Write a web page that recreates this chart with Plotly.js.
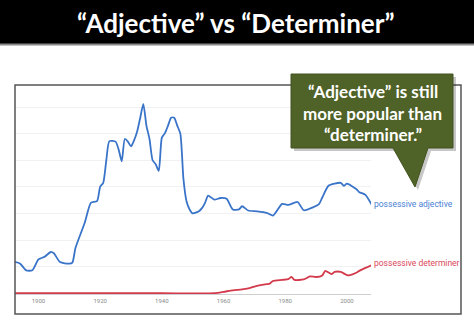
<!DOCTYPE html>
<html><head><meta charset="utf-8">
<script src="https://cdn.plot.ly/plotly-3.0.1.min.js"></script>
<style>html,body{margin:0;padding:0;background:#fff;}#chart{width:474px;height:331px;}</style>
</head><body><div id="chart"></div>
<script>
// ---- data ----
const adjYears = [1892,1894,1896,1898,1900,1902,1904,1905,1907,1910,1911,1912,1915,1917,1919,1920,1921,1922,1923,1925,1926,1927,1928,1929,1930,1931,1932,1933,1934,1935,1936,1937,1938,1939,1940,1941,1942,1943,1944,1945,1946,1947,1948,1949,1950,1952,1953,1954,1955,1957,1959,1961,1963,1965,1966,1968,1971,1974,1976,1977,1979,1981,1984,1986,1989,1991,1992,1994,1996,1998,1999,2000,2003,2004,2006,2008];
const adjValues = [1.19,1.12,0.86,0.86,1.27,1.37,1.55,1.5,1.17,1.11,1.15,1.7,2.65,3.4,3.46,4.0,4.15,5.0,5.72,5.7,5.4,4.96,5.8,5.7,5.52,5.75,6.08,6.6,7.12,6.3,5.8,5.0,4.85,4.6,5.85,6.02,6.3,6.6,6.6,6.3,6.0,4.3,3.46,3.15,3.0,3.08,3.2,3.4,3.67,3.52,3.58,3.55,3.15,3.15,3.27,3.11,3.08,3.02,2.92,3.05,3.36,3.32,3.43,3.12,3.23,3.36,3.6,4.04,4.12,4.15,4.04,4.12,3.92,3.8,3.7,3.33];
const detYears = [1892,1920,1940,1957,1960,1963,1966,1968,1970,1972,1974,1975,1976,1979,1981,1982,1983,1986,1988,1990,1992,1993,1995,1996,1998,2000,2001,2003,2004,2006,2008];
const detValues = [0,0,0,0,0.05,0.11,0.14,0.18,0.25,0.3,0.34,0.36,0.46,0.5,0.53,0.61,0.5,0.52,0.63,0.61,0.67,0.84,0.72,0.8,0.8,0.68,0.68,0.77,0.84,0.95,1.05];
const seriesNames = ["possessive adjective","possessive determiner"];
const tickYears = [1900,1920,1940,1960,1980,2000];
const titleText = "“Adjective” vs “Determiner”";
const calloutLines = ["“Adjective” is still","more popular than","“determiner.”"];

// ---- layout geometry (pixels) ----
const W=474,H=331, L=15, R=103, T=85, B=37;
const pw=W-L-R, ph=H-T-B;
const px=x=>(x-L)/pw, py=y=>(H-B-y)/ph;
function path(pts){return 'M'+pts.map(p=>px(p[0])+','+py(p[1])).join(' L')+' Z';}

const blue='#3a74c9', red='#d33a4b';
const traces=[
 {x:adjYears,y:adjValues,type:'scatter',mode:'lines',line:{color:blue,width:1.8,shape:'spline',smoothing:0.6},name:seriesNames[0],hoverinfo:'x+y'},
 {x:detYears,y:detValues,type:'scatter',mode:'lines',line:{color:red,width:1.8,shape:'spline',smoothing:0.6},name:seriesNames[1],hoverinfo:'x+y'}
];

const calloutPts=[[291,74],[453,74],[453,148],[428,148],[415,187],[393,148],[291,148]];
const shadowPts=calloutPts.map(p=>[p[0]+3,p[1]+3]);

const shapes=[
 {type:'rect',xref:'paper',yref:'paper',x0:px(0),x1:px(W),y0:py(44),y1:py(0),fillcolor:'#000',line:{width:0},layer:'above'},
 {type:'rect',xref:'paper',yref:'paper',x0:px(0),x1:px(W),y0:py(45.5),y1:py(43.5),fillcolor:'#8a8a8a',line:{width:0},layer:'above'},
 {type:'rect',xref:'paper',yref:'paper',x0:px(15),x1:px(461),y0:py(314),y1:py(85),fillcolor:'rgba(0,0,0,0)',line:{color:'#555',width:1.5},layer:'above'},
 {type:'path',xref:'paper',yref:'paper',path:path(shadowPts),fillcolor:'rgba(0,0,0,0.22)',line:{width:0},layer:'above'},
 {type:'path',xref:'paper',yref:'paper',path:path(calloutPts),fillcolor:'#4f6228',line:{color:'#42531f',width:1},layer:'above'}
];

const annFont={family:'Lato, "Open Sans", sans-serif',size:17,color:'#fff'};
const lineY=[92,113,134];
const annotations=calloutLines.map((t,i)=>({xref:'paper',yref:'paper',x:px(373),y:py(lineY[i]),text:'<b>'+t+'</b>',showarrow:false,xanchor:'center',yanchor:'middle',font:annFont}));
annotations.push({xref:'paper',yref:'paper',x:px(236),y:py(23),text:'<b>'+titleText+'</b>',showarrow:false,xanchor:'center',yanchor:'middle',font:{family:'Lato, "Open Sans", sans-serif',size:26,color:'#fff'}});
annotations.push({xref:'paper',yref:'y',x:1,y:adjValues[adjValues.length-1],xshift:1,yshift:1,text:seriesNames[0],showarrow:false,xanchor:'left',yanchor:'middle',font:{family:'Roboto, sans-serif',size:8.5,color:'#4a80d4'}});
annotations.push({xref:'paper',yref:'y',x:1,y:detValues[detValues.length-1],xshift:1,yshift:2,text:seriesNames[1],showarrow:false,xanchor:'left',yanchor:'middle',font:{family:'Roboto, sans-serif',size:8.5,color:'#d9475a'}});

const layout={
 width:W,height:H,margin:{l:L,r:R,t:T,b:B,pad:0},
 paper_bgcolor:'#fff',plot_bgcolor:'#fff',showlegend:false,
 xaxis:{range:[1892.4,2007.8],tickvals:tickYears,ticktext:tickYears.map(String),showgrid:false,zeroline:false,showline:true,linecolor:'#cfcfcf',linewidth:1,ticks:'',tickfont:{family:'Roboto, sans-serif',size:6,color:'#8a8a8a'},ticklabelstandoff:1,fixedrange:true},
 yaxis:{range:[-0.03,7.83],dtick:1,showgrid:true,gridcolor:'#f1f1f1',zeroline:false,showticklabels:false,showline:false,ticks:'',fixedrange:true},
 shapes:shapes,annotations:annotations
};
Plotly.newPlot('chart',traces,layout,{displayModeBar:false,staticPlot:true});
</script></body></html>
